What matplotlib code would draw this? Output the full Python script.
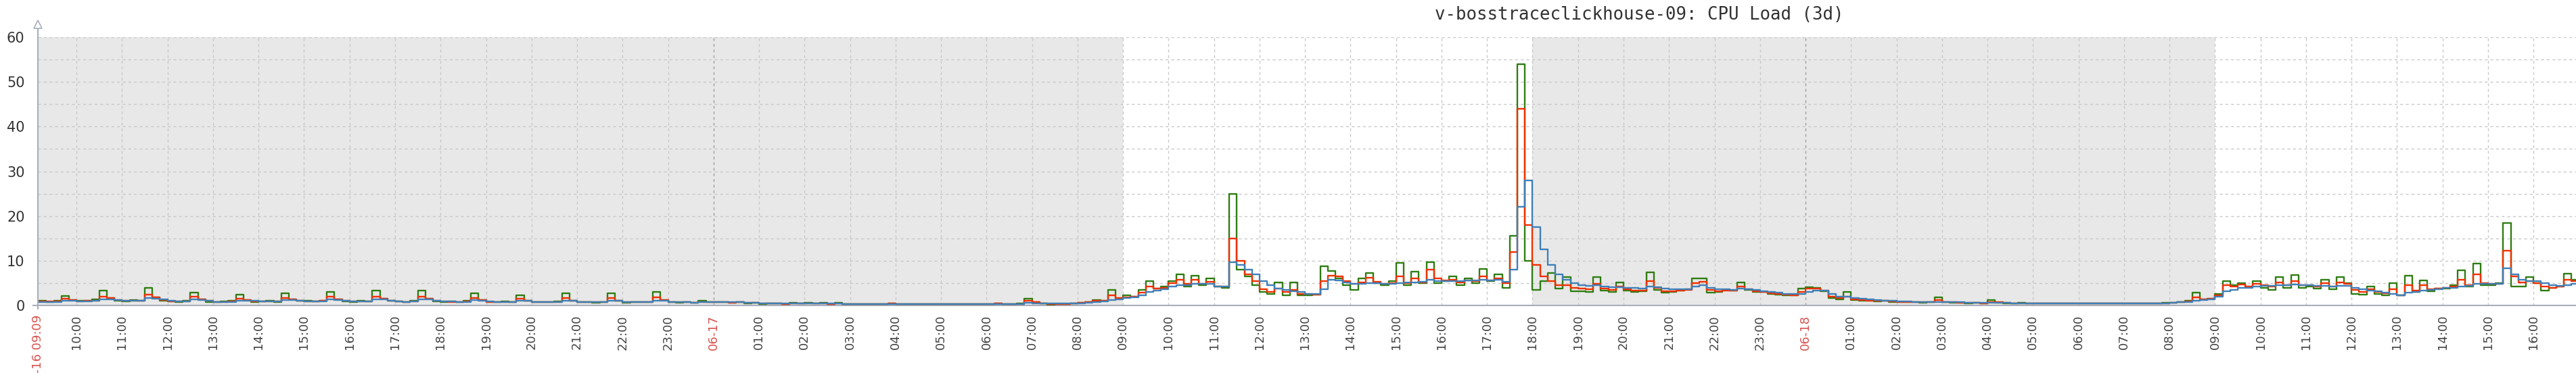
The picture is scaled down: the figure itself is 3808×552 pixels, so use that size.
import pandas as pd
import matplotlib
matplotlib.use("Agg")
import matplotlib.pyplot as plt

title = "v-bosstraceclickhouse-09: CPU Load (3d)"
first_sample = "2024-06-16 09:10"
view_start = pd.Timestamp("2024-06-16 09:09")
view_end = pd.Timestamp("2024-06-18 16:56")
off_hours = [("2024-06-16 09:09", "2024-06-17 09:00"),
             ("2024-06-17 18:00", "2024-06-18 09:00")]

# one value every 10 minutes, rows are hours (first row starts 09:10)
load1 = [
    1.0, 0.8, 1.1, 2.1, 1.2,
    1.0, 1.1, 1.3, 3.4, 1.6, 1.1,
    0.9, 1.2, 1.0, 4.0, 1.8, 1.0,
    0.9, 0.8, 1.0, 2.8, 1.4, 0.7,
    0.7, 0.9, 1.0, 2.4, 1.2, 0.8,
    0.9, 1.0, 0.8, 2.7, 1.3, 1.0,
    1.0, 0.9, 1.1, 3.0, 1.4, 0.9,
    0.8, 1.0, 0.9, 3.4, 1.5, 1.0,
    0.9, 0.8, 1.0, 3.3, 1.5, 0.9,
    0.8, 0.9, 0.7, 1.0, 2.7, 1.2,
    0.8, 0.7, 0.9, 0.8, 2.3, 1.1,
    0.7, 0.8, 0.7, 0.9, 2.7, 1.0,
    0.7, 0.8, 0.6, 0.8, 2.7, 1.1,
    0.6, 0.7, 0.8, 0.7, 3.0, 1.2,
    0.7, 0.6, 0.8, 0.6, 1.1, 0.7,
    # 06-17
    0.7, 0.8, 0.6, 0.8, 0.5, 0.6,
    0.3, 0.4, 0.5, 0.3, 0.6, 0.4,
    0.6, 0.4, 0.6, 0.3, 0.6, 0.3,
    0.3, 0.3, 0.3, 0.3, 0.3, 0.5,
    0.3, 0.3, 0.3, 0.3, 0.3, 0.3,
    0.3, 0.3, 0.3, 0.3, 0.3, 0.3,
    0.3, 0.5, 0.3, 0.3, 0.4, 1.5,
    0.7, 0.4, 0.2, 0.3, 0.3, 0.5,
    0.6, 0.8, 1.2, 1.0, 3.5, 1.5,
    2.2, 2.0, 3.5, 5.5, 3.8, 4.2,
    5.5, 7.0, 4.2, 6.7, 4.5, 6.0,
    4.2, 4.0, 25.0, 8.0, 6.5, 4.5,
    3.0, 2.5, 5.2, 2.2, 5.2, 2.2,
    2.3, 2.4, 8.7, 7.7, 6.0, 4.5,
    3.5, 6.0, 7.3, 5.0, 4.5, 5.5,
    9.5, 4.5, 7.5, 5.0, 9.7, 5.0,
    5.5, 6.5, 4.5, 6.0, 5.0, 8.2,
    5.5, 7.0, 4.0, 15.5, 54.0, 10.0,
    3.5, 5.5, 7.3, 3.8, 6.3, 3.2,
    3.2, 3.0, 6.3, 3.3, 3.0, 5.2,
    3.3, 3.0, 3.2, 7.4, 3.5, 2.8,
    3.0, 3.4, 3.6, 6.1, 6.0, 2.9,
    3.0, 3.5, 3.3, 5.2, 3.5, 3.0,
    3.0, 2.6, 2.4, 2.3, 2.2, 3.8,
    # 06-18
    4.1, 4.0, 3.2, 1.6, 1.4, 3.0,
    1.2, 1.0, 1.1, 0.9, 1.0, 0.8,
    0.8, 0.7, 0.8, 0.6, 0.7, 1.8,
    0.7, 0.6, 0.6, 0.5, 0.6, 0.5,
    1.2, 0.6, 0.5, 0.5, 0.6, 0.5,
    0.5, 0.4, 0.5, 0.4, 0.4, 0.5,
    0.4, 0.4, 0.5, 0.4, 0.5, 0.4,
    0.4, 0.5, 0.4, 0.5, 0.5, 0.6,
    0.6, 0.8, 1.0, 2.8, 1.4, 1.5,
    2.5, 5.5, 4.5, 5.0, 4.2, 5.5,
    4.0, 3.5, 6.3, 4.0, 6.8, 4.0,
    4.2, 3.8, 5.8, 3.6, 6.3, 5.0,
    2.5, 2.4, 4.3, 2.6, 2.3, 5.0,
    2.2, 6.6, 3.0, 5.6, 3.2, 3.8,
    3.8, 4.5, 7.8, 4.2, 9.3, 4.5,
    4.5, 5.0, 18.4, 4.2, 4.3, 6.3,
    5.0, 3.3, 4.0, 4.2, 7.1, 5.8,
    5.5,
]

load5 = [
    0.9, 0.9, 0.9, 1.5, 1.2,
    0.9, 1.0, 1.1, 2.0, 1.6, 1.2,
    1.0, 1.0, 1.0, 2.4, 1.8, 1.2,
    0.9, 0.9, 0.9, 1.9, 1.4, 1.0,
    0.8, 0.8, 0.9, 1.5, 1.2, 0.9,
    0.9, 0.9, 0.9, 1.7, 1.3, 1.0,
    0.9, 0.9, 1.0, 1.9, 1.4, 1.0,
    0.9, 0.9, 0.9, 2.0, 1.5, 1.1,
    0.9, 0.8, 0.9, 2.0, 1.5, 1.0,
    0.9, 0.8, 0.8, 0.9, 1.7, 1.2,
    0.8, 0.8, 0.8, 0.8, 1.5, 1.1,
    0.8, 0.7, 0.7, 0.8, 1.6, 1.1,
    0.8, 0.7, 0.7, 0.7, 1.6, 1.1,
    0.7, 0.7, 0.7, 0.7, 1.8, 1.2,
    0.7, 0.7, 0.7, 0.6, 0.8, 0.7,
    # 06-17
    0.7, 0.7, 0.6, 0.7, 0.6, 0.6,
    0.4, 0.4, 0.4, 0.3, 0.5, 0.4,
    0.4, 0.4, 0.4, 0.3, 0.4, 0.3,
    0.3, 0.3, 0.3, 0.3, 0.3, 0.4,
    0.3, 0.3, 0.3, 0.3, 0.3, 0.3,
    0.3, 0.3, 0.3, 0.3, 0.3, 0.3,
    0.3, 0.4, 0.3, 0.3, 0.3, 1.1,
    0.8, 0.5, 0.3, 0.3, 0.3, 0.4,
    0.6, 0.7, 1.0, 1.0, 2.2, 1.6,
    1.8, 2.0, 2.8, 4.3, 3.8, 4.0,
    5.0, 5.8, 4.8, 5.8, 4.9, 5.3,
    4.3, 4.2, 15.0, 10.0, 7.0, 5.5,
    3.7, 3.0, 3.8, 3.0, 3.5, 2.6,
    2.5, 2.4, 5.5, 6.7, 6.5, 5.5,
    4.8, 5.2, 6.2, 5.3, 4.8, 5.0,
    6.5, 5.0, 6.0, 5.2, 8.0, 6.0,
    5.6, 5.8, 5.2, 5.6, 5.4, 6.5,
    5.6, 6.0, 5.0, 12.0, 44.0, 18.0,
    9.0, 6.5, 5.5, 4.5, 4.6, 4.0,
    3.8, 3.6, 4.8, 3.8, 3.5, 4.2,
    3.6, 3.4, 3.3, 5.5, 4.0, 3.2,
    3.2, 3.3, 3.5, 5.0, 5.3, 3.5,
    3.2, 3.4, 3.3, 4.3, 3.7, 3.2,
    3.0, 2.7, 2.5, 2.4, 2.3, 3.0,
    # 06-18
    3.8, 3.8, 3.4, 2.0, 1.6, 2.0,
    1.4, 1.2, 1.1, 1.0, 1.0, 0.9,
    0.8, 0.8, 0.7, 0.7, 0.7, 1.2,
    0.8, 0.7, 0.6, 0.6, 0.6, 0.5,
    0.8, 0.7, 0.6, 0.5, 0.5, 0.5,
    0.5, 0.4, 0.4, 0.4, 0.4, 0.4,
    0.4, 0.4, 0.4, 0.4, 0.4, 0.4,
    0.4, 0.4, 0.4, 0.5, 0.5, 0.5,
    0.6, 0.7, 0.9, 1.8, 1.4, 1.5,
    2.2, 4.6, 4.2, 4.7, 4.3, 4.8,
    4.6, 4.3, 5.2, 4.6, 5.5, 4.6,
    4.5, 4.2, 5.0, 4.3, 5.2, 4.8,
    3.5, 3.0, 3.6, 3.0, 2.7, 3.6,
    2.2, 4.5, 3.3, 4.5, 3.6, 3.8,
    4.0, 4.2, 5.8, 4.6, 7.0, 5.0,
    4.8, 4.8, 12.3, 6.5, 5.2, 5.4,
    5.0, 4.2, 4.0, 4.2, 5.8, 5.4,
    5.0,
]

load15 = [
    0.8, 0.8, 0.8, 1.0, 1.0,
    0.9, 0.9, 1.0, 1.3, 1.3, 1.2,
    1.0, 1.0, 1.0, 1.6, 1.5, 1.3,
    1.0, 0.9, 0.9, 1.3, 1.2, 1.0,
    0.8, 0.8, 0.8, 1.1, 1.1, 1.0,
    0.9, 0.9, 0.9, 1.2, 1.2, 1.0,
    0.9, 0.9, 0.9, 1.3, 1.2, 1.1,
    0.9, 0.9, 0.9, 1.3, 1.3, 1.1,
    0.9, 0.8, 0.9, 1.3, 1.3, 1.1,
    0.9, 0.9, 0.8, 0.8, 1.2, 1.1,
    0.9, 0.8, 0.8, 0.8, 1.1, 1.0,
    0.8, 0.8, 0.7, 0.7, 1.1, 1.0,
    0.8, 0.7, 0.7, 0.7, 1.1, 1.0,
    0.8, 0.7, 0.7, 0.7, 1.1, 1.0,
    0.8, 0.7, 0.7, 0.6, 0.7, 0.7,
    # 06-17
    0.7, 0.7, 0.7, 0.7, 0.6, 0.6,
    0.5, 0.5, 0.5, 0.4, 0.4, 0.4,
    0.4, 0.4, 0.4, 0.4, 0.4, 0.3,
    0.3, 0.3, 0.3, 0.3, 0.3, 0.3,
    0.3, 0.3, 0.3, 0.3, 0.3, 0.3,
    0.3, 0.3, 0.3, 0.3, 0.3, 0.3,
    0.3, 0.3, 0.3, 0.3, 0.3, 0.6,
    0.5, 0.5, 0.4, 0.4, 0.4, 0.4,
    0.5, 0.6, 0.8, 0.9, 1.2, 1.4,
    1.6, 1.8, 2.3, 3.0, 3.4, 3.7,
    4.3, 4.6, 4.6, 4.8, 4.8, 4.9,
    4.3, 4.2, 9.7, 9.0, 8.0, 7.0,
    5.5, 4.5, 3.8, 3.5, 3.2, 3.0,
    2.6, 2.5, 3.7, 5.7, 5.6, 5.2,
    4.9, 4.8, 5.0, 5.0, 4.9, 4.9,
    5.0, 5.2, 5.1, 5.3, 5.8, 5.5,
    5.5, 5.5, 5.5, 5.6, 5.6, 5.7,
    5.6, 5.7, 5.3, 8.0, 22.0, 28.0,
    17.5, 12.5, 9.0, 7.0, 5.8, 5.0,
    4.6, 4.4, 4.5, 4.3, 4.1, 4.1,
    4.0, 3.9, 3.8, 4.3, 4.1, 3.8,
    3.6, 3.6, 3.6, 4.2, 4.5, 3.9,
    3.6, 3.6, 3.5, 3.8, 3.7, 3.5,
    3.2, 3.0, 2.8, 2.6, 2.5, 2.6,
    # 06-18
    3.0, 3.4, 3.4, 2.6, 2.0, 1.9,
    1.7, 1.5, 1.3, 1.2, 1.1, 1.0,
    0.9, 0.9, 0.8, 0.8, 0.7, 0.8,
    0.8, 0.7, 0.7, 0.6, 0.6, 0.6,
    0.6, 0.6, 0.6, 0.5, 0.5, 0.5,
    0.5, 0.5, 0.5, 0.4, 0.4, 0.4,
    0.4, 0.4, 0.4, 0.4, 0.4, 0.4,
    0.4, 0.4, 0.4, 0.4, 0.5, 0.5,
    0.6, 0.7, 0.8, 1.1, 1.2, 1.4,
    1.9, 3.2, 3.5, 3.9, 4.0, 4.3,
    4.4, 4.4, 4.6, 4.6, 4.7, 4.6,
    4.5, 4.4, 4.4, 4.3, 4.4, 4.4,
    3.9, 3.6, 3.4, 3.1, 2.8, 2.6,
    2.3, 2.8, 3.0, 3.3, 3.5, 3.7,
    3.9, 4.0, 4.3, 4.4, 4.8, 4.9,
    4.9, 4.9, 8.3, 7.0, 5.8, 5.5,
    5.4, 5.0, 4.6, 4.4, 4.6, 4.8,
    4.8,
]

W, H = 3808, 552
axis_color = "#a9aebb"
grid_color = "#c9c9c9"
date_color = "#d9534f"

times = pd.date_range(first_sample, periods=len(load1), freq="10min")

fig = plt.figure(figsize=(W / 100, H / 100), dpi=100)
left, bottom, top = 56, 452, 55
ax = fig.add_axes([left / W, 1 - bottom / H, 1 - left / W, (bottom - top) / H])
ax.set_facecolor("white")

for a, b in off_hours:
    ax.axvspan(pd.Timestamp(a), pd.Timestamp(b), color="#e8e8e8", lw=0, zorder=0)

for y in range(5, 61, 5):
    ax.axhline(y, color=grid_color, lw=1, ls=(0, (3, 3)), zorder=1)

hours = pd.date_range("2024-06-16 10:00", view_end, freq="h")
for h in hours:
    c = "#a0a0a0" if h.hour == 0 else grid_color
    ax.axvline(h, color=c, lw=1, ls=(0, (3, 3)), zorder=1)

ax.plot(times, load1, drawstyle="steps-post", color="#2e7d12", lw=1.7, zorder=3)
ax.plot(times, load5, drawstyle="steps-post", color="#f03000", lw=1.7, zorder=4)
ax.plot(times, load15, drawstyle="steps-post", color="#3f7fb8", lw=1.7, zorder=5)

ax.set_xlim(view_start, view_end)
ax.set_ylim(0, 60)

ticks = [view_start] + list(hours)
labels = ["06-16 09:09"] + [h.strftime("%m-%d") if h.hour == 0 else h.strftime("%H:%M")
                            for h in hours]
ax.set_xticks(ticks)
ax.set_xticklabels(labels, rotation=90, fontsize=13, va="top", ha="center")
for lab, t in zip(ax.get_xticklabels(), ticks):
    lab.set_color(date_color if (t == view_start or t.hour == 0) else "#444444")
ax.tick_params(axis="x", length=0, pad=10)

ax.set_yticks(range(0, 61, 10))
ax.tick_params(axis="y", length=0, pad=14, labelsize=15, labelcolor="#333333")

for s in ["top", "right", "left"]:
    ax.spines[s].set_visible(False)
ax.spines["bottom"].set_color(axis_color)
ax.spines["bottom"].set_linewidth(1.5)

# y axis with arrow head on top
ax.plot([0, 0], [-0.012, 1.04], transform=ax.transAxes, color=axis_color,
        lw=1.5, clip_on=False, zorder=6)
ax.plot([0], [1.048], transform=ax.transAxes, marker="^", ms=9, mfc="white",
        mec=axis_color, mew=1.2, clip_on=False, zorder=7)
ax.plot([-0.0019, 0], [0, 0], transform=ax.transAxes, color=axis_color,
        lw=1.5, clip_on=False, zorder=6)

fig.text(2423 / W, 1 - 22 / H, title, ha="center", va="center",
         fontsize=18.5, family="DejaVu Sans Mono", color="#333333")

fig.savefig("out.png", dpi=100)
